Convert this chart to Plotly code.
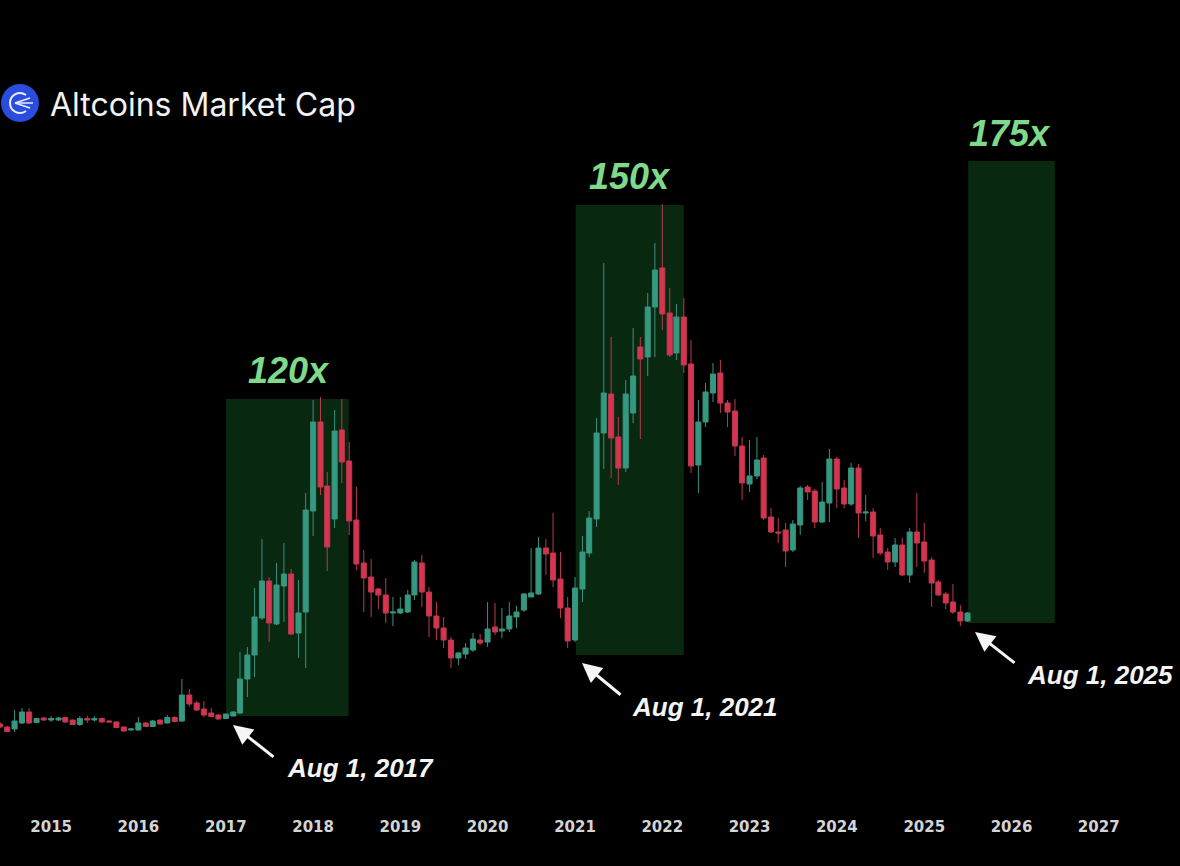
import plotly.graph_objects as go

# monthly candles, first one is June 2014 (levels are read off the picture, no y axis in the original)
first_year = 2014
first_month = 6

opens = [142, 139, 137, 143, 154, 143.5, 148,
         146, 146, 148.5, 146, 141.5, 147.5, 146, 147.5, 145, 144, 139, 136,
         136, 143, 139.5, 146, 143, 148.5, 145, 171, 163, 157, 153, 151,
         147.5, 150, 153, 187, 211, 248, 285, 242, 280, 292, 233, 254,
         355, 444, 380, 347, 436, 405, 346, 303, 289, 277, 271, 253,
         253, 254, 271, 303, 274, 250, 238, 226, 208, 212, 216, 226,
         224, 239, 235, 237, 249, 256, 269, 272, 318, 313, 287, 258,
         226, 277, 313, 347, 433, 472, 429, 398, 453, 519, 509, 559,
         598, 553, 513, 549, 502, 401, 444, 473, 493, 463, 455, 420,
         382, 390, 408, 349, 334, 336, 316, 341, 379, 375, 344, 363,
         407, 378, 362, 398, 353, 354, 331, 314, 304, 321, 291, 334,
         324, 306, 284, 272, 264, 254, 245]
highs = [144, 140, 156, 158, 158, 148, 149,
         150, 149, 149, 146.5, 150, 150.5, 150, 148, 146, 144.5, 139.5, 138,
         149, 144, 146, 146.5, 151, 150, 187, 177, 165, 165, 158, 152,
         152.5, 155, 214, 219, 278, 327, 289, 303, 323, 297, 286, 373,
         466, 469, 394, 456, 467, 424, 379, 316, 307, 278, 288, 269,
         269, 276, 306, 311, 279, 264, 249, 229, 214, 223, 233, 232,
         264, 263, 258, 264, 260, 273, 318, 329, 327, 353, 314, 269,
         289, 330, 355, 448, 603, 529, 449, 486, 538, 529, 573, 623,
         662, 578, 562, 568, 526, 466, 483, 503, 506, 466, 467, 429,
         426, 429, 411, 358, 348, 343, 346, 380, 381, 377, 384, 417,
         409, 386, 403, 402, 371, 358, 338, 318, 328, 328, 338, 373,
         343, 309, 286, 274, 282, 261, 254]
lows = [138, 134, 134, 142, 142, 143, 145,
        144, 145, 143.5, 141, 140, 143, 144.5, 143.5, 143.5, 138, 134.5, 135.5,
        135.5, 139, 139, 141.5, 142.5, 144, 144, 159, 155, 149, 149, 146.5,
        147, 149.5, 152, 169, 189, 246, 224, 241, 244, 231, 208, 198,
        330, 371, 295, 338, 383, 331, 296, 254, 249, 257, 243, 240,
        252, 253, 266, 259, 229, 226, 218, 198, 201, 207, 214, 221,
        219, 231, 228, 234, 238, 254, 269, 271, 291, 279, 248, 218,
        224, 264, 309, 339, 397, 388, 381, 394, 443, 427, 490, 509,
        536, 509, 506, 493, 393, 373, 439, 464, 453, 439, 410, 366,
        374, 387, 346, 333, 323, 299, 314, 331, 366, 338, 343, 344,
        358, 358, 360, 328, 345, 308, 311, 296, 299, 290, 283, 299,
        293, 259, 270, 257, 252, 240, 244]
closes = [139, 134.5, 145, 154, 143, 147.5, 146,
          147.5, 148, 144, 141.5, 147.5, 146, 147.5, 144, 144, 138.5, 135, 137,
          143, 139.5, 145, 142, 148.5, 144.5, 171, 162, 156, 151, 149.5, 147,
          152, 154, 187, 211, 249, 285, 243, 281, 292, 232, 253, 356,
          444, 379, 319, 435, 404, 345, 302, 288, 274, 271, 253, 254,
          257, 271, 304, 274, 250, 238, 226, 208, 213, 218, 227, 223,
          237, 234, 237, 250, 254, 272, 273, 318, 312, 286, 258, 225,
          278, 314, 348, 433, 473, 428, 398, 472, 490, 507, 559, 596,
          552, 511, 549, 501, 400, 444, 474, 492, 463, 454, 420, 383,
          390, 406, 348, 334, 333, 315, 342, 378, 374, 344, 364, 407,
          377, 362, 398, 353, 354, 330, 313, 304, 321, 291, 334, 323,
          305, 283, 271, 263, 254, 245, 253]

# highlighted runs
zone_starts = ['2017-01-02', '2021-01-04', '2025-07-04']
zone_ends = ['2018-05-30', '2022-04-01', '2026-07-01']
zone_bottoms = [150, 211, 243]
zone_tops = [467, 661, 705]

year_ticks = ['2015', '2016', '2017', '2018', '2019', '2020', '2021', '2022', '2023', '2024', '2025', '2026', '2027']

# create month strings for the candles
dates = []
y, m = first_year, first_month
for i in range(len(opens)):
    dates.append('%d-%02d-01' % (y, m))
    m += 1
    if m > 12:
        y, m = y + 1, 1

W, H, BOTTOM = 1180, 866, 50

# pixel position -> paper fraction, for the decoration
def px(x):
    return x / W

def py(y):
    return 1 - y / (H - BOTTOM)

fig = go.Figure(go.Candlestick(x=dates, open=opens, high=highs, low=lows, close=closes,
                               increasing=dict(fillcolor='#339a80', line=dict(color='#3a9280', width=1)),
                               decreasing=dict(fillcolor='#d9344f', line=dict(color='#bb3a50', width=1)),
                               whiskerwidth=0, showlegend=False))

# green zones
for x0, x1, y0, y1 in zip(zone_starts, zone_ends, zone_bottoms, zone_tops):
    fig.add_shape(type='rect', x0=x0, x1=x1, y0=y0, y1=y1, layer='below',
                  fillcolor='#082810', line=dict(width=0))

# logo
fig.add_shape(type='circle', xref='paper', yref='paper', x0=px(1), x1=px(39), y0=py(122), y1=py(84),
              fillcolor='#2a4ddd', line=dict(width=0))
arc = 'M %f,%f C %f,%f %f,%f %f,%f C %f,%f %f,%f %f,%f' % (
    px(26), py(95), px(19), py(90), px(10), py(95), px(10), py(103),
    px(10), py(111), px(19), py(116), px(26), py(111))
fig.add_shape(type='path', xref='paper', yref='paper', path=arc, line=dict(color='#e8ecff', width=2))
for ly0, ly1, lx in [(103, 98, 30), (103, 103, 33), (103, 108, 30)]:
    fig.add_shape(type='line', xref='paper', yref='paper', x0=px(15), x1=px(lx), y0=py(ly0), y1=py(ly1),
                  line=dict(color='#e8ecff', width=1.5))

fig.add_annotation(xref='paper', yref='paper', x=px(48), y=py(105), xanchor='left', yanchor='middle',
                   text='Altcoins Market Cap', showarrow=False,
                   font=dict(family='Inter', size=32, color='#f2f2f2'))

# multipliers
for txt, x, y in [('120x', 289, 371), ('150x', 630, 176), ('175x', 1010, 134)]:
    fig.add_annotation(xref='paper', yref='paper', x=px(x), y=py(y), xanchor='center', yanchor='middle',
                       text='<b><i>%s</i></b>' % txt, showarrow=False,
                       font=dict(family='Liberation Sans', size=36, color='#7fd98a'))

# date labels with arrows
for txt, x, y, hx, hy, tx, ty in [('Aug 1, 2017', 360, 768, 233, 725, 275, 758),
                                  ('Aug 1, 2021', 705, 707, 582, 663, 622, 696),
                                  ('Aug 1, 2025', 1100, 675, 975, 632, 1016, 664)]:
    fig.add_annotation(xref='paper', yref='paper', x=px(x), y=py(y), xanchor='center', yanchor='middle',
                       text='<b><i>%s</i></b>' % txt, showarrow=False,
                       font=dict(family='Liberation Sans', size=26, color='#f5f5f5'))
    fig.add_annotation(xref='paper', yref='paper', x=px(hx), y=py(hy), ax=tx - hx, ay=ty - hy, text='',
                       showarrow=True, arrowhead=2, arrowsize=1.3, arrowwidth=3, arrowcolor='#f5f5f5')

fig.update_layout(width=W, height=H, margin=dict(l=0, r=0, t=0, b=BOTTOM),
                  paper_bgcolor='#000000', plot_bgcolor='#000000', boxgap=0.13, boxgroupgap=0.13,
                  showlegend=False, font=dict(family='Inter'))
fig.update_xaxes(type='date', range=['2014-06-01', '2027-12-07'], rangeslider_visible=False,
                 showgrid=False, zeroline=False, showline=False, ticks='',
                 tickmode='array', tickvals=['%s-01-01' % t for t in year_ticks], ticktext=year_ticks,
                 tickfont=dict(family='DejaVu Sans', size=15, color='#d4d4d4', weight='bold'))
fig.update_yaxes(range=[BOTTOM, H], visible=False, showgrid=False, zeroline=False)

fig.write_html("out.html", config=dict(displayModeBar=False),
               post_script="document.body.style.margin='0';document.body.style.background='#000';document.body.style.overflow='hidden';")
